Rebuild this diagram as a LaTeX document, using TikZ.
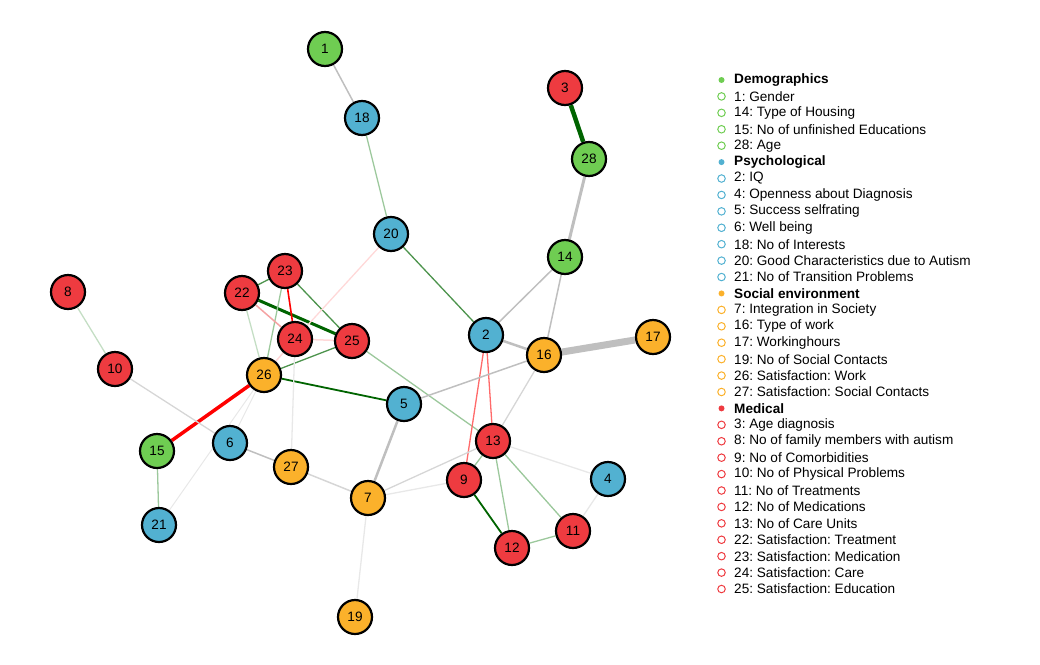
\documentclass[tikz,border=0pt]{standalone}
\usepackage{fontspec}
\setmainfont{Liberation Sans}
\usetikzlibrary{backgrounds}
\frenchspacing

\definecolor{cDemo}{HTML}{6FCD52}
\definecolor{cPsych}{HTML}{52B1D1}
\definecolor{cSocial}{HTML}{FBB12B}
\definecolor{cMed}{HTML}{EE3B40}
\definecolor{posDark}{HTML}{006400}
\definecolor{posMid}{HTML}{4C934C}
\definecolor{posLight}{HTML}{9CC89C}
\definecolor{posPale}{HTML}{C4DEC4}
\definecolor{negMid}{HTML}{FF6A6A}
\definecolor{negLight}{HTML}{F5A3A3}
\definecolor{negPale}{HTML}{FFD8D8}
\definecolor{grayMid}{HTML}{BFBFBF}
\definecolor{grayLight}{HTML}{D6D6D6}
\definecolor{grayPale}{HTML}{E8E8E8}

\begin{document}
\begin{tikzpicture}[x=1pt, y=-1pt]

\tikzstyle{vertex}=[circle, draw=black, line width=2.2pt, minimum size=34pt, inner sep=0pt, font=\fontsize{13.6}{15}\selectfont]
\tikzstyle{demo}=[vertex, fill=cDemo]
\tikzstyle{psych}=[vertex, fill=cPsych]
\tikzstyle{social}=[vertex, fill=cSocial]
\tikzstyle{medical}=[vertex, fill=cMed]
\tikzstyle{legtext}=[anchor=west, inner sep=0pt, font=\fontsize{13.6}{15}\selectfont]
\tikzstyle{demohead}=[circle, fill=cDemo, inner sep=0pt, minimum size=6pt]
\tikzstyle{psychhead}=[circle, fill=cPsych, inner sep=0pt, minimum size=6pt]
\tikzstyle{socialhead}=[circle, fill=cSocial, inner sep=0pt, minimum size=6pt]
\tikzstyle{medhead}=[circle, fill=cMed, inner sep=0pt, minimum size=6pt]
\tikzstyle{demoitem}=[circle, draw=cDemo, line width=1pt, inner sep=0pt, minimum size=7.5pt]
\tikzstyle{psychitem}=[circle, draw=cPsych, line width=1pt, inner sep=0pt, minimum size=7.5pt]
\tikzstyle{socialitem}=[circle, draw=cSocial, line width=1pt, inner sep=0pt, minimum size=7.5pt]
\tikzstyle{meditem}=[circle, draw=cMed, line width=1pt, inner sep=0pt, minimum size=7.5pt]

\useasboundingbox (0,0) rectangle (1040,664);

% variables
\node[demo] (n1) at (325,49) {1};
\node[psych] (n18) at (362,118) {18};
\node[medical] (n3) at (565,88) {3};
\node[demo] (n28) at (589,159) {28};
\node[psych] (n20) at (391,234) {20};
\node[demo] (n14) at (565,257) {14};
\node[medical] (n23) at (285,271) {23};
\node[medical] (n22) at (242,293) {22};
\node[medical] (n8) at (68,292) {8};
\node[medical] (n24) at (295,339) {24};
\node[medical] (n25) at (352,341) {25};
\node[social] (n17) at (653,337) {17};
\node[psych] (n2) at (486,335) {2};
\node[social] (n16) at (544,355) {16};
\node[medical] (n10) at (115,369) {10};
\node[social] (n26) at (264,375) {26};
\node[psych] (n5) at (404,404) {5};
\node[medical] (n13) at (493,441) {13};
\node[psych] (n6) at (230,443) {6};
\node[demo] (n15) at (157,451) {15};
\node[social] (n27) at (291,467) {27};
\node[psych] (n4) at (608,479) {4};
\node[medical] (n9) at (464,480) {9};
\node[social] (n7) at (368,498) {7};
\node[medical] (n11) at (573,531) {11};
\node[medical] (n12) at (512,548) {12};
\node[psych] (n21) at (159,525) {21};
\node[social] (n19) at (355,617) {19};

% edges
\begin{pgfonlayer}{background}
\begin{scope}[line width=1.3pt]
\draw[posDark, line width=4.5pt] (n3) -- (n28);
\draw[posDark, line width=3pt] (n22) -- (n25);
\draw[posDark, line width=1.8pt] (n26) -- (n5);
\draw[posDark, line width=1.8pt] (n9) -- (n12);
\draw[red, line width=3.5pt] (n26) -- (n15);
\draw[grayMid, line width=7pt] (n16) -- (n17);
\draw[grayMid, line width=3pt] (n28) -- (n14);
\draw[grayMid, line width=2.5pt] (n5) -- (n7);
\draw[grayMid, line width=2.5pt] (n2) -- (n16);
\draw[posMid] (n25) -- (n26);
\draw[posMid] (n23) -- (n25);
\draw[posMid] (n22) -- (n23);
\draw[posMid] (n20) -- (n2);
\draw[posLight] (n23) -- (n26);
\draw[posLight] (n18) -- (n20);
\draw[posLight] (n15) -- (n21);
\draw[posLight] (n25) -- (n13);
\draw[posLight] (n13) -- (n12);
\draw[posLight] (n13) -- (n11);
\draw[posLight] (n11) -- (n12);
\draw[posLight] (n9) -- (n13);
\draw[posPale] (n8) -- (n10);
\draw[posPale] (n22) -- (n26);
\draw[red, line width=1.6pt] (n23) -- (n24);
\draw[negMid] (n2) -- (n9);
\draw[negMid] (n2) -- (n13);
\draw[negLight, line width=1.5pt] (n22) -- (n24);
\draw[negPale, line width=1.5pt] (n24) -- (n25);
\draw[negPale, line width=1.5pt] (n24) -- (n26);
\draw[negPale] (n20) -- (n24);
\draw[grayMid, line width=1.5pt] (n1) -- (n18);
\draw[grayMid, line width=1.5pt] (n14) -- (n16);
\draw[grayMid, line width=1.5pt] (n2) -- (n14);
\draw[grayMid, line width=1.5pt] (n5) -- (n16);
\draw[grayMid, line width=1.5pt] (n6) -- (n27);
\draw[grayLight, line width=1.5pt] (n27) -- (n7);
\draw[grayLight] (n13) -- (n7);
\draw[grayLight] (n16) -- (n13);
\draw[grayLight] (n10) -- (n6);
\draw[grayPale] (n13) -- (n4);
\draw[grayPale] (n4) -- (n11);
\draw[grayPale] (n9) -- (n7);
\draw[grayPale] (n24) -- (n27);
\draw[grayPale] (n7) -- (n19);
\draw[grayPale, line width=1pt] (n6) -- (n26);
\draw[grayPale, line width=1pt] (n21) -- (n26);
\end{scope}
\end{pgfonlayer}

% legend
\foreach \mk/\txt [count=\i from 0] in {
  demohead/\textbf{Demographics}, demoitem/{1: Gender}, demoitem/{14: Type of Housing},
  demoitem/{15: No of unfinished Educations}, demoitem/{28: Age},
  psychhead/\textbf{Psychological}, psychitem/{2: IQ}, psychitem/{4: Openness about Diagnosis},
  psychitem/{5: Success selfrating}, psychitem/{6: Well being}, psychitem/{18: No of Interests},
  psychitem/{20: Good Characteristics due to Autism}, psychitem/{21: No of Transition Problems},
  socialhead/\textbf{Social environment}, socialitem/{7: Integration in Society},
  socialitem/{16: Type of work}, socialitem/{17: Workinghours}, socialitem/{19: No of Social Contacts},
  socialitem/{26: Satisfaction: Work}, socialitem/{27: Satisfaction: Social Contacts},
  medhead/\textbf{Medical}, meditem/{3: Age diagnosis}, meditem/{8: No of family members with autism},
  meditem/{9: No of Comorbidities}, meditem/{10: No of Physical Problems}, meditem/{11: No of Treatments},
  meditem/{12: No of Medications}, meditem/{13: No of Care Units}, meditem/{22: Satisfaction: Treatment},
  meditem/{23: Satisfaction: Medication}, meditem/{24: Satisfaction: Care}, meditem/{25: Satisfaction: Education}}
{
  \node[\mk] (mk\i) at (721.5, 80+\i*16.42) {};
  \node[legtext] (lg\i) at (734, 80+\i*16.42) {\txt};
}

\end{tikzpicture}
\end{document}
